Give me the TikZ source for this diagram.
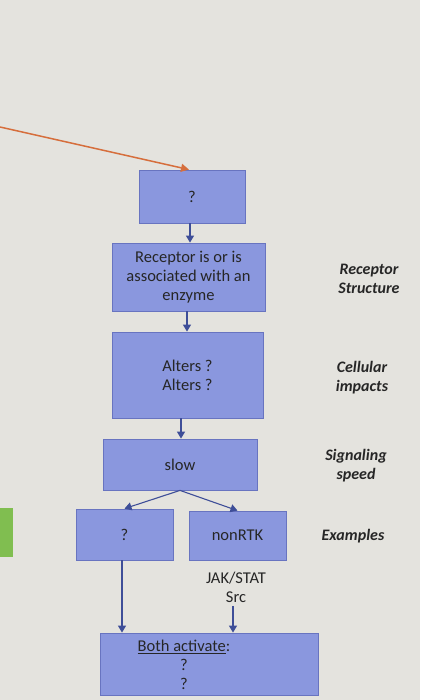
\documentclass[tikz,border=0pt]{standalone}
\usepackage{fontspec}
\setmainfont{Carlito}
\usetikzlibrary{arrows.meta,positioning}
\definecolor{paper}{RGB}{228,227,222}
\definecolor{boxfill}{RGB}{138,151,222}
\definecolor{boxline}{RGB}{104,116,192}
\definecolor{flowline}{RGB}{62,78,152}
\definecolor{incoming}{RGB}{214,110,60}
\definecolor{tabgreen}{RGB}{128,190,80}
\begin{document}
\begin{tikzpicture}[%
  x=1pt, y=-1pt,
  font=\fontsize{16.5}{19}\selectfont,
  stage/.style={draw=boxline, line width=0.8pt, fill=boxfill, inner sep=2pt,
    align=center, text=black!85},
  flow/.style={draw=flowline, line width=1.1pt, -{Triangle[length=7pt,width=8pt]}},
  rowlabel/.style={font=\fontsize{16}{19}\selectfont\bfseries\itshape, align=center,
    text=black!85}]
\fill[paper] (0,0) rectangle (420,700);
\useasboundingbox (0,0) rectangle (420,700);
\fill[tabgreen] (0,508) rectangle (13,557);

\node[stage, minimum width=106pt, minimum height=53pt] (query) at (192,196.5) {?};
\node[stage, minimum width=153pt, minimum height=68pt] (receptor) at (188.5,277)
  {Receptor is or is\\associated with an\\enzyme};
\node[stage, minimum width=151pt, minimum height=86pt] (alters) at (187.5,375)
  {Alters ?\\Alters ?};
\node[stage, minimum width=154pt, minimum height=51pt] (slow) at (180,464.5) {slow};
\node[stage, minimum width=97pt, minimum height=51pt] (rtk) at (124.5,534.5) {?};
\node[stage, minimum width=97pt, minimum height=49pt] (nonrtk) at (237.5,535.5) {nonRTK};
\node[stage, minimum width=218pt, minimum height=62pt] (both) at (209,664) {};
\node[align=center, text=black!85] (bothtext) at (184,665)
  {\underline{Both activate}:\\?\\?};
\node[align=center, text=black!85] (jak) at (236,587) {JAK/STAT\\Src};

\node[rowlabel] (lstruct) at (369,279) {Receptor\\Structure};
\node[rowlabel] (limpact) at (362,378) {Cellular\\impacts};
\node[rowlabel] (lspeed) at (356,466) {Signaling\\speed};
\node[rowlabel] (lexample) at (353,536) {Examples};

\coordinate (from) at (0,127);
\draw[draw=incoming, line width=1.5pt, -{Triangle[length=8pt,width=8pt]}]
  (from) -- (query.north -| 189,0);
\draw[flow] (query.south -| 190,0) -- (receptor.north -| 190,0);
\draw[flow] (receptor.south -| 187,0) -- (alters.north -| 187,0);
\draw[flow] (alters.south -| 181,0) -- (slow.north -| 181,0);
\draw[flow] (slow.south) -- (rtk.north);
\draw[flow] (slow.south) -- (nonrtk.north);
\draw[flow] (rtk.south -| 122,0) -- (both.north -| 122,0);
\draw[flow] (jak.south -| 233,0) -- (both.north -| 233,0);
\end{tikzpicture}
\end{document}
